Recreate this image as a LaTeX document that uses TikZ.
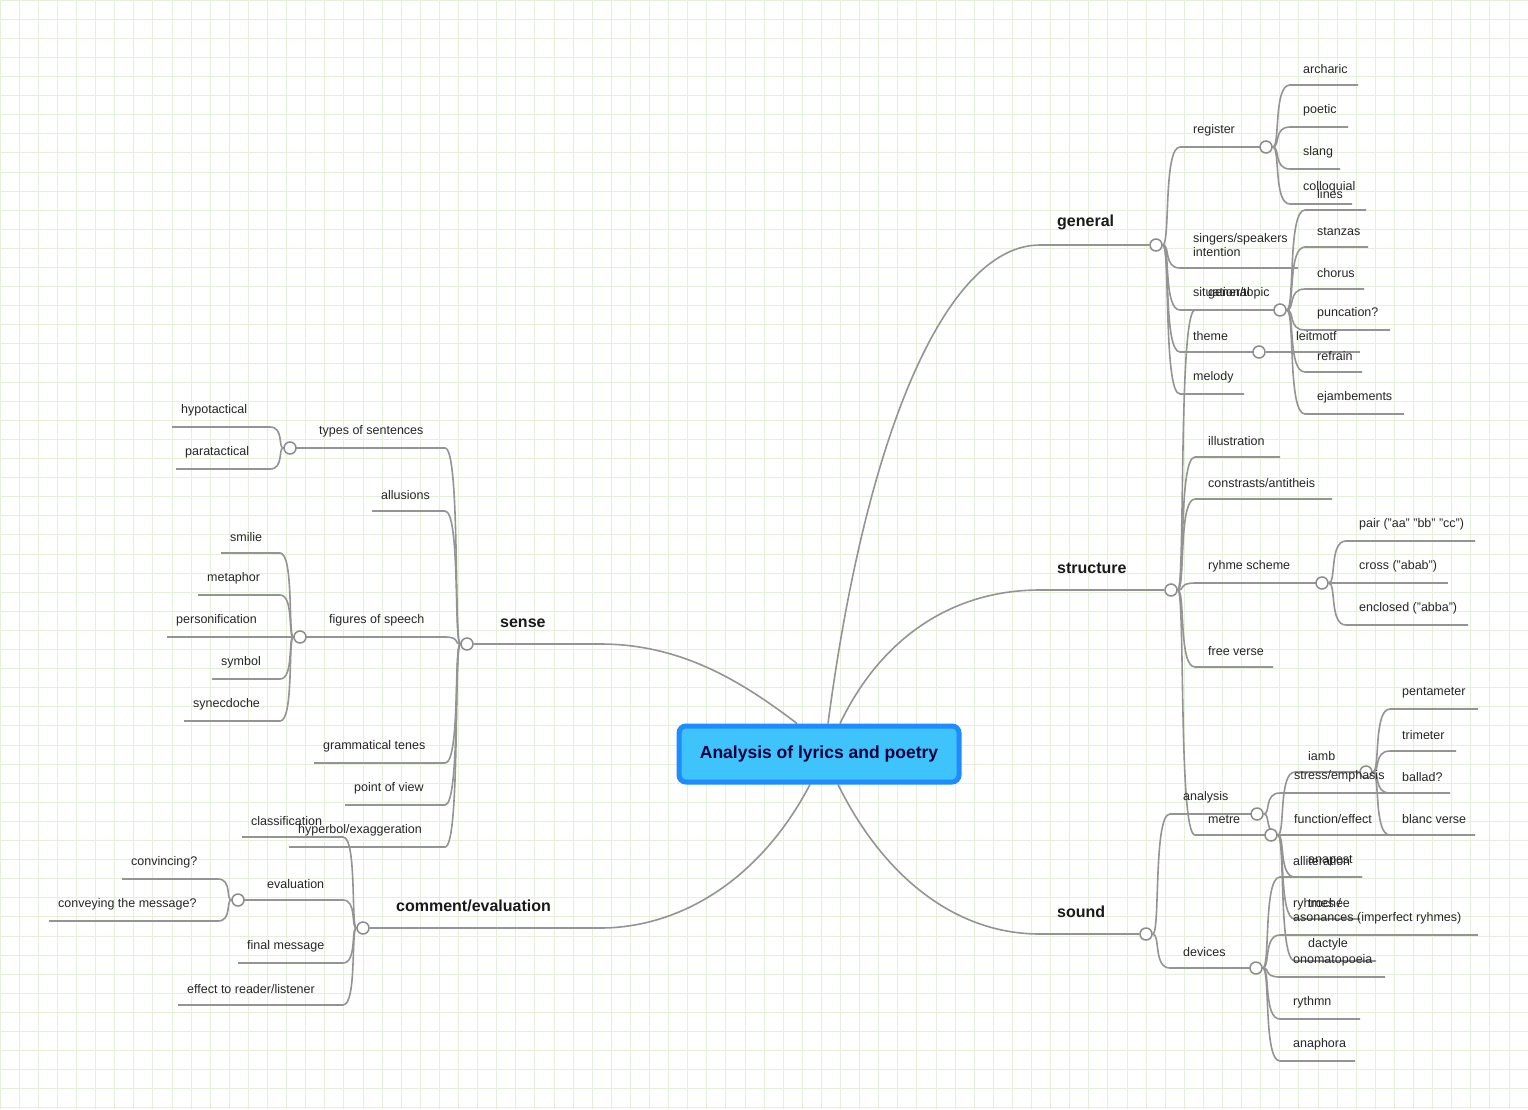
\documentclass[tikz,border=0pt]{standalone}
\usepackage{fontspec}
\setmainfont{Liberation Sans}
\newcounter{brc}
\pgfdeclarelayer{back}
\pgfdeclarelayer{bg}
\pgfsetlayers{back,bg,main}
\definecolor{rootfill}{HTML}{3EC3FB}
\definecolor{rootdraw}{HTML}{1E8CFF}
\definecolor{gridc}{HTML}{E6EFDA}
\tikzset{
 conn/.style={draw=black!42, line width=1.6pt},
 lab/.style={anchor=south west, inner sep=0pt, font=\fontsize{12.5}{14}\selectfont, text=black!85, align=left},
 topic/.style={anchor=south west, inner sep=0pt, font=\fontsize{16}{18}\selectfont\bfseries, text=black!90},
 dot/.style={circle, draw=black!45, fill=white, line width=1.5pt, minimum size=12pt, inner sep=0pt},
}
\newcommand\br[8]{%
 \stepcounter{brc}%
 \pgfmathsetmacro\ca{#2+0.6*(#4-#2)}\pgfmathsetmacro\cb{#2+0.3*(#4-#2)}%
 \coordinate (end\thebrc) at (#6,#5);
 \begin{pgfonlayer}{bg}\draw[conn] (#1) .. controls (\ca,#3) and (\cb,#5) .. (#4,#5) -- (end\thebrc);\end{pgfonlayer}
 \node[lab] at (#8,#5-11) {#7};}
\begin{document}
\begin{tikzpicture}[x=1pt,y=-1pt]
\useasboundingbox (0,0) rectangle (1528,1109);
\begin{pgfonlayer}{back}
\fill[white] (0,0) rectangle (1528,1109);
\foreach \i in {0,...,80} {\draw[gridc, line width=0.7pt] (\i*19.1,0) -- (\i*19.1,1109);}
\foreach \i in {0,...,58} {\draw[gridc, line width=0.7pt] (0,\i*19.1) -- (1528,\i*19.1);}
\end{pgfonlayer}

\node[draw=rootdraw, line width=5pt, fill=rootfill, rounded corners=7pt, minimum width=280pt, minimum height=56pt, font=\fontsize{17.5}{20}\selectfont\bfseries, text=blue!25!black] (root) at (819,754) {Analysis of lyrics and poetry};

\node[dot] (gen) at (1156,245) {};
\node[dot] (str) at (1171,590) {};
\node[dot] (snd) at (1146,934) {};
\node[dot] (sen) at (467,644) {};
\node[dot] (com) at (363,928) {};
\node[dot] (reg) at (1266,147) {};
\node[dot] (sgen) at (1280,310) {};
\node[dot] (thm) at (1259,352) {};
\node[dot] (rhy) at (1322,583) {};
\node[dot] (met) at (1271,835) {};
\node[dot] (iamb) at (1366,772) {};
\node[dot] (ana) at (1257,814) {};
\node[dot] (dev) at (1256,968) {};
\node[dot] (tos) at (290,448) {};
\node[dot] (fos) at (300,637) {};
\node[dot] (eva) at (238,900) {};

\begin{pgfonlayer}{bg}
\draw[conn] ([xshift=9]root.north) .. controls (868,420) and (950,245) .. (1040,245) -- (gen);
\draw[conn] ([xshift=21]root.north) .. controls (880,640) and (950,590) .. (1040,590) -- (str);
\draw[conn] ([xshift=19]root.south) .. controls (880,870) and (950,934) .. (1040,934) -- (snd);
\draw[conn] ([xshift=-22]root.north) .. controls (740,680) and (680,644) .. (600,644) -- (sen);
\draw[conn] ([xshift=-9]root.south) .. controls (760,880) and (680,928) .. (600,928) -- (com);
\end{pgfonlayer}
\node[topic] at (1057,230) {general};
\node[topic] at (1057,574) {structure};
\node[topic] at (1057,918) {sound};
\node[topic] at (500,628) {sense};
\node[topic] at (396,912) {comment/evaluation};

\br{gen}{1156}{245}{1180}{147}{1266}{register}{1193}
\br{reg}{1266}{147}{1290}{85}{1358}{archaric}{1303}
\br{reg}{1266}{147}{1290}{127}{1348}{poetic}{1303}
\br{reg}{1266}{147}{1290}{169}{1340}{slang}{1303}
\br{reg}{1266}{147}{1290}{204}{1352}{colloquial}{1303}
\br{gen}{1156}{245}{1180}{268}{1298}{singers/speakers\\intention}{1193}
\br{gen}{1156}{245}{1180}{310}{1280}{situation/topic}{1193}
\br{gen}{1156}{245}{1180}{352}{1259}{theme}{1193}
\br{thm}{1259}{352}{1280}{352}{1360}{leitmotf}{1296}
\br{gen}{1156}{245}{1180}{394}{1244}{melody}{1193}

\br{str}{1171}{590}{1195}{310}{1280}{general}{1208}
\br{sgen}{1280}{310}{1305}{210}{1366}{lines}{1317}
\br{sgen}{1280}{310}{1305}{247}{1368}{stanzas}{1317}
\br{sgen}{1280}{310}{1305}{289}{1364}{chorus}{1317}
\br{sgen}{1280}{310}{1305}{330}{1390}{puncation?}{1317}
\br{sgen}{1280}{310}{1305}{372}{1362}{refrain}{1317}
\br{sgen}{1280}{310}{1305}{414}{1404}{ejambements}{1317}
\br{str}{1171}{590}{1195}{457}{1280}{illustration}{1208}
\br{str}{1171}{590}{1195}{499}{1332}{constrasts/antitheis}{1208}
\br{str}{1171}{590}{1195}{583}{1322}{ryhme scheme}{1208}
\br{rhy}{1322}{583}{1346}{541}{1475}{pair ("aa" "bb" "cc")}{1359}
\br{rhy}{1322}{583}{1346}{583}{1448}{cross ("abab")}{1359}
\br{rhy}{1322}{583}{1346}{625}{1468}{enclosed ("abba")}{1359}
\br{str}{1171}{590}{1195}{667}{1273}{free verse}{1208}
\br{str}{1171}{590}{1195}{835}{1271}{metre}{1208}
\br{met}{1271}{835}{1295}{772}{1366}{iamb}{1308}
\br{iamb}{1366}{772}{1390}{709}{1478}{pentameter}{1402}
\br{iamb}{1366}{772}{1390}{751}{1456}{trimeter}{1402}
\br{iamb}{1366}{772}{1390}{793}{1450}{ballad?}{1402}
\br{iamb}{1366}{772}{1390}{835}{1475}{blanc verse}{1402}
\br{met}{1271}{835}{1295}{877}{1362}{anapest}{1308}
\br{met}{1271}{835}{1295}{919}{1360}{trochee}{1308}
\br{met}{1271}{835}{1295}{961}{1376}{dactyle}{1308}

\br{snd}{1146}{934}{1170}{814}{1257}{analysis}{1183}
\br{ana}{1257}{814}{1280}{793}{1395}{stress/emphasis}{1294}
\br{ana}{1257}{814}{1280}{835}{1392}{function/effect}{1294}
\br{snd}{1146}{934}{1170}{968}{1256}{devices}{1183}
\br{dev}{1256}{968}{1280}{877}{1362}{alliteration}{1293}
\br{dev}{1256}{968}{1280}{935}{1478}{ryhmes /\\asonances (imperfect ryhmes)}{1293}
\br{dev}{1256}{968}{1280}{977}{1385}{onomatopoeia}{1293}
\br{dev}{1256}{968}{1280}{1019}{1360}{rythmn}{1293}
\br{dev}{1256}{968}{1280}{1061}{1355}{anaphora}{1293}

\br{sen}{467}{644}{445}{448}{290}{types of sentences}{319}
\br{tos}{290}{448}{270}{427}{172}{hypotactical}{181}
\br{tos}{290}{448}{270}{469}{176}{paratactical}{185}
\br{sen}{467}{644}{445}{511}{372}{allusions}{381}
\br{sen}{467}{644}{445}{637}{300}{figures of speech}{329}
\br{fos}{300}{637}{280}{553}{221}{smilie}{230}
\br{fos}{300}{637}{280}{595}{198}{metaphor}{207}
\br{fos}{300}{637}{280}{637}{167}{personification}{176}
\br{fos}{300}{637}{280}{679}{212}{symbol}{221}
\br{fos}{300}{637}{280}{721}{184}{synecdoche}{193}
\br{sen}{467}{644}{445}{763}{314}{grammatical tenes}{323}
\br{sen}{467}{644}{445}{805}{345}{point of view}{354}
\br{sen}{467}{644}{445}{847}{289}{hyperbol/exaggeration}{298}

\br{com}{363}{928}{343}{837}{242}{classification}{251}
\br{com}{363}{928}{343}{900}{238}{evaluation}{267}
\br{eva}{238}{900}{218}{879}{122}{convincing?}{131}
\br{eva}{238}{900}{218}{921}{49}{conveying the message?}{58}
\br{com}{363}{928}{343}{963}{238}{final message}{247}
\br{com}{363}{928}{343}{1005}{178}{effect to reader/listener}{187}
\end{tikzpicture}
\end{document}
